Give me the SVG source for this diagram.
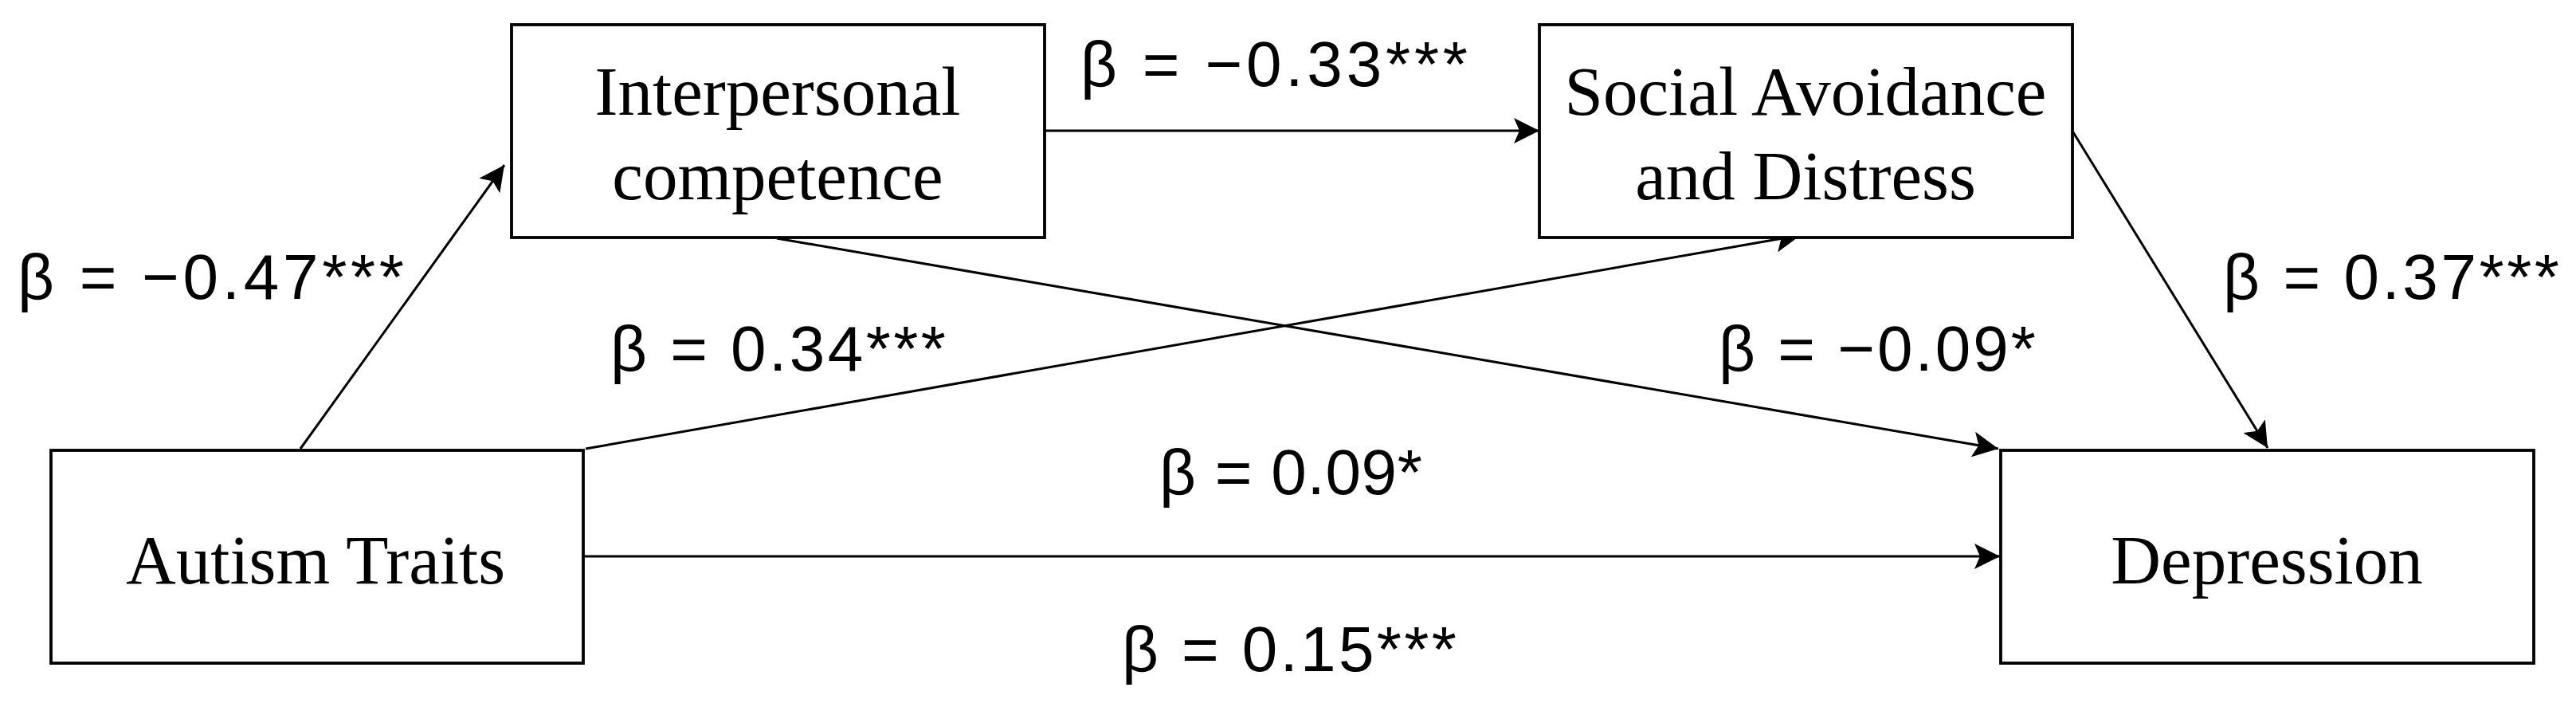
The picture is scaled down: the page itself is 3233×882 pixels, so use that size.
<svg xmlns="http://www.w3.org/2000/svg" width="3233" height="882" viewBox="0 0 3233 882">
<style>
.box{fill:#fff;stroke:#000;stroke-width:3.8}
.node{font-family:"Liberation Serif","Times New Roman",serif;font-size:87px;fill:#000;text-anchor:middle}
.lbl{font-family:"Liberation Sans",Arial,sans-serif;font-size:80px;fill:#000}
.conn{stroke:#000;stroke-width:3;fill:none;marker-end:url(#ah)}
</style>
<defs>
<marker id="ah" markerUnits="userSpaceOnUse" markerWidth="34" markerHeight="32" refX="32" refY="16" orient="auto">
<path d="M0,0 L32,16 L0,32 L7,16 z" fill="#000"/>
</marker>
</defs>
<rect width="3233" height="882" fill="#fff"/>
<g id="connectors">
<line class="conn" x1="377" y1="563" x2="633" y2="207"/>
<line class="conn" x1="1311" y1="164" x2="1932" y2="164"/>
<line class="conn" x1="735" y1="563" x2="2260" y2="295"/>
<line class="conn" x1="975" y1="299" x2="2508" y2="563"/>
<line class="conn" x1="2602" y1="166" x2="2846" y2="562"/>
<line class="conn" x1="732" y1="698" x2="2510" y2="698"/>
</g>
<g id="node-interpersonal">
<rect class="box" x="642" y="31" width="669" height="267"/>
<text class="node" x="976" y="144">Interpersonal</text>
<text class="node" x="976" y="250">competence</text>
</g>
<g id="node-social">
<rect class="box" x="1932" y="31" width="669" height="267"/>
<text class="node" x="2266" y="144">Social Avoidance</text>
<text class="node" x="2266" y="250">and Distress</text>
</g>
<g id="node-autism">
<rect class="box" x="64" y="565" width="668" height="267"/>
<text class="node" x="396" y="732">Autism Traits</text>
</g>
<g id="node-depression">
<rect class="box" x="2511" y="565" width="669" height="267"/>
<text class="node" x="2845" y="732">Depression</text>
</g>
<g id="labels">
<text class="lbl" x="22" y="375" textLength="485" lengthAdjust="spacing">β = −0.47***</text>
<text class="lbl" x="1356" y="108" textLength="486" lengthAdjust="spacing">β = −0.33***</text>
<text class="lbl" x="766" y="465" textLength="421" lengthAdjust="spacing">β = 0.34***</text>
<text class="lbl" x="2157" y="465" textLength="398" lengthAdjust="spacing">β = −0.09*</text>
<text class="lbl" x="1455" y="620" textLength="330" lengthAdjust="spacing">β = 0.09*</text>
<text class="lbl" x="1408" y="842" textLength="420" lengthAdjust="spacing">β = 0.15***</text>
<text class="lbl" x="2790" y="375" textLength="422" lengthAdjust="spacing">β = 0.37***</text>
</g>
</svg>
